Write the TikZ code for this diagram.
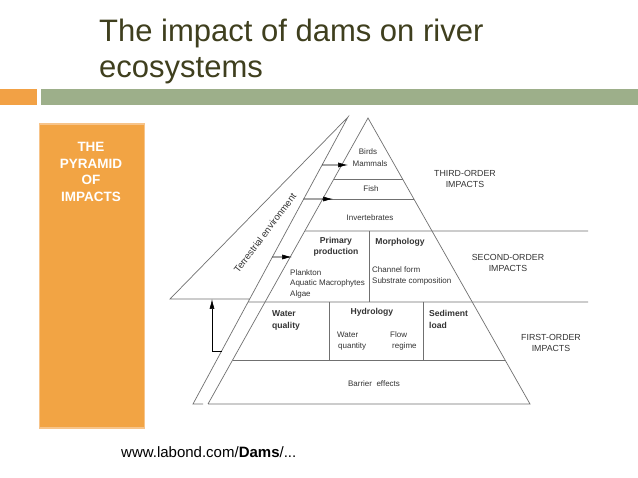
\documentclass[tikz,border=0pt]{standalone}
\usepackage{fontspec}
\setmainfont{Liberation Sans}
\usetikzlibrary{calc,arrows.meta}
\definecolor{titlecol}{HTML}{3F3F1E}
\definecolor{barorange}{HTML}{F2A145}
\definecolor{bargreen}{HTML}{9DAF8A}
\definecolor{boxfill}{HTML}{F2A444}
\definecolor{boxedge}{HTML}{F7C48A}
\definecolor{linecol}{HTML}{707070}
\definecolor{txtcol}{HTML}{333333}
\begin{document}
\begin{tikzpicture}[x=1pt,y=-1pt,
  pline/.style={draw=linecol,line width=0.7pt},
  arr/.style={draw=black,line width=0.6pt,-{Latex[length=10pt,width=5pt]}},
  lbl/.style={text=txtcol,font=\fontsize{8}{9.6}\selectfont,inner sep=0pt},
  blbl/.style={text=txtcol,font=\fontsize{8.6}{11}\selectfont\bfseries,inner sep=0pt},
  ord/.style={text=txtcol,font=\fontsize{8.8}{11}\selectfont,inner sep=0pt},
  ttl/.style={text=titlecol,font=\fontsize{31}{36}\selectfont,inner sep=0pt,anchor=base west},
]
\useasboundingbox[fill=white] (0,0) rectangle (638,478);
% title
\node[ttl] (t1) at (99,42) {The impact of dams on river};
\node[ttl] (t2) at (99,78) {ecosystems};
% header bars
\fill[barorange] (0,89) rectangle (37,105);
\fill[bargreen] (41,89) rectangle (638,105);
% orange box
\node[draw=boxedge,line width=1.5pt,fill=boxfill,minimum width=105pt,minimum height=304pt,inner sep=0pt,anchor=north west] (box) at (38.5,123.5) {};
\node[text=white,font=\fontsize{13.5}{16.7}\selectfont\bfseries,align=center,inner sep=0pt] (boxt) at (91,172) {THE\\PYRAMID\\OF\\IMPACTS};
% url
\node[anchor=west,inner sep=0pt,font=\fontsize{15}{18}\selectfont] (url) at (121,452) {www.labond.com/\textbf{Dams}/...};

% pyramid geometry
\coordinate (A) at (368,118);
\coordinate (BL) at (208,404);
\coordinate (BR) at (530,404);
\coordinate (T) at (348,117);
\coordinate (TL) at (170,299);
\coordinate (F) at (193,404);
\coordinate (Ff) at (203,404);
% left/right edge points
\coordinate (L179) at ($(A)!0.2133!(BL)$);
\coordinate (R179) at ($(A)!0.2133!(BR)$);
\coordinate (L199) at ($(A)!0.2832!(BL)$);
\coordinate (R199) at ($(A)!0.2832!(BR)$);
\coordinate (L231) at ($(A)!0.3951!(BL)$);
\coordinate (E231) at (588,231);
\coordinate (O302) at ($(T)!0.6446!(F)$);
\coordinate (E302) at (588,302);
\coordinate (L360) at ($(A)!0.8462!(BL)$);
\coordinate (R360) at ($(A)!0.8462!(BR)$);
\coordinate (TR) at ($(T)!0.6341!(F)$);

% terrestrial environment
\draw[pline] (TR) -- (TL) -- (T) -- (F) -- (Ff);
% pyramid outline
\draw[pline] (BL) -- (A) -- (BR) -- (BL);
% horizontal divisions
\draw[pline] (L179) -- (R179);
\draw[pline] (L199) -- (R199);
\draw[pline] (L231) -- (E231);
\draw[pline] (O302) -- (E302);
\draw[pline] (L360) -- (R360);
% vertical divisions
\draw[pline] (369,231) -- (369,302);
\draw[pline] (329,302) -- (329,360);
\draw[pline] (423,302) -- (423,360);

% arrows from terrestrial environment
\coordinate (s1) at ($(T)!0.1672!(F)$);
\coordinate (e1) at (348,165);
\coordinate (s2) at ($(T)!0.2857!(F)$);
\coordinate (e2) at (333,199);
\coordinate (s3) at ($(T)!0.4878!(F)$);
\coordinate (e3) at (292,257);
\draw[arr] (s1) -- (e1);
\draw[arr] (s2) -- (e2);
\draw[arr] (s3) -- (e3);
\coordinate (s4) at ($(T)!0.8153!(F)$);
\coordinate (e4) at (212,299);
\draw[arr] (s4) -- (s4 -| e4) -- (e4);

% texts
\node[lbl] (birds) at (368,152) {Birds};
\node[lbl] (mamm) at (370,164) {Mammals};
\node[lbl] (fish) at (371,189) {Fish};
\node[lbl] (inv) at (370,218) {Invertebrates};
\node[blbl,align=center] (pp) at (336,246.5) {Primary\\production};
\node[blbl] (morph) at (400,242) {Morphology};
\node[lbl,anchor=west,align=left,font=\fontsize{8}{10.5}\selectfont] (plank) at (290,283.5) {Plankton\\Aquatic Macrophytes\\Algae};
\node[lbl,anchor=west,align=left,font=\fontsize{8}{11.5}\selectfont] (chan) at (372,276) {Channel form\\Substrate composition};
\node[blbl,anchor=west,align=left,font=\fontsize{8.6}{12}\selectfont\bfseries] (wq) at (272,320) {Water\\quality};
\node[blbl] (hydro) at (372,312) {Hydrology};
\node[lbl,anchor=west] (wat) at (337,335) {Water};
\node[lbl,anchor=west] (quan) at (338,346) {quantity};
\node[lbl,anchor=west] (flow) at (390,335) {Flow};
\node[lbl,anchor=west] (reg) at (392,346) {regime};
\node[blbl,anchor=west,align=left,font=\fontsize{8.6}{12}\selectfont\bfseries] (sed) at (429,319) {Sediment\\load};
\node[lbl] (barr) at (374,384) {Barrier\ \ effects};
\node[ord,align=center] (third) at (465,178.5) {THIRD-ORDER\\IMPACTS};
\node[ord,align=center] (second) at (508,262.5) {SECOND-ORDER\\IMPACTS};
\node[ord,align=center] (first) at (551,342.5) {FIRST-ORDER\\IMPACTS};
\node[lbl,rotate=53,font=\fontsize{9.5}{11}\selectfont] (terr) at (265,233) {Terrestrial environment};
\end{tikzpicture}
\end{document}
